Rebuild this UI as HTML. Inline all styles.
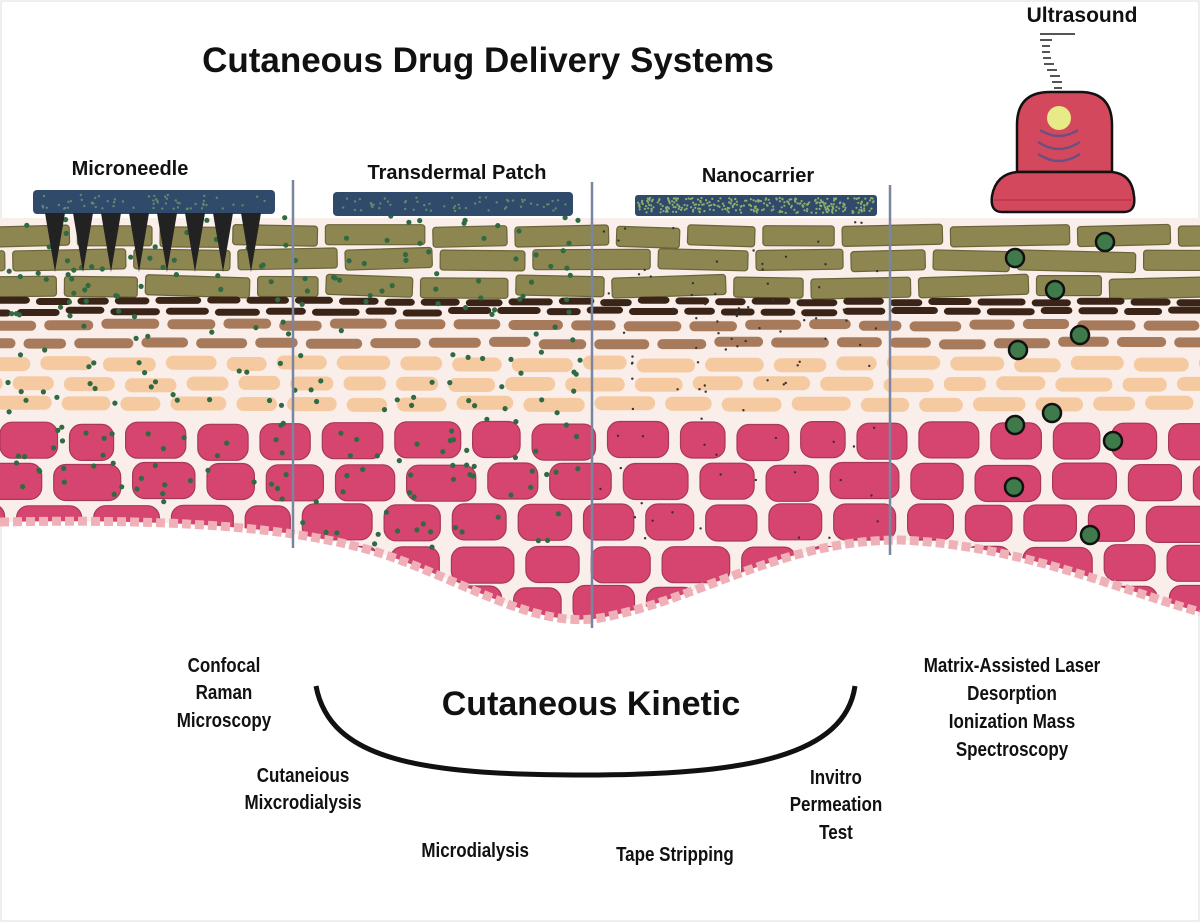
<!DOCTYPE html>
<html><head><meta charset="utf-8">
<style>
html,body{margin:0;padding:0;background:#fff;}
body{width:1200px;height:922px;overflow:hidden;position:relative;font-family:"Liberation Sans",Arial,sans-serif;}
svg{position:absolute;left:0;top:0;}
</style></head>
<body>
<svg id="s" width="1200" height="922" viewBox="0 0 1200 922" xmlns="http://www.w3.org/2000/svg">
<defs>
<clipPath id="skin"><path d="M0,218 L1200,218 L1200,612 C1120,590 1020,545 900,540 C780,540 700,600 600,618 C540,628 480,590 400,560 C320,530 200,518 0,522 Z"/></clipPath>
</defs>
<rect x="1" y="1" width="1198" height="920" fill="#fff" stroke="#ddd"/>
<path d="M0,218 L1200,218 L1200,612 C1120,590 1020,545 900,540 C780,540 700,600 600,618 C540,628 480,590 400,560 C320,530 200,518 0,522 Z" fill="#f9eeea"/>
<g id="cells" clip-path="url(#skin)"></g>
<path id="dotline" d="M0,522 C200,518 320,530 400,560 C480,590 540,628 600,618 C700,600 780,540 900,540 C1020,545 1120,590 1200,612" fill="none" stroke="#f0b0b8" stroke-width="9" stroke-dasharray="9 4"/>
<g id="dots"></g>
<g stroke="#7a86a0" stroke-width="2.5">
<line x1="293" y1="180" x2="293" y2="548"/>
<line x1="592" y1="182" x2="592" y2="628"/>
<line x1="890" y1="185" x2="890" y2="555"/>
</g>
<rect x="33" y="190" width="242" height="24" rx="4" fill="#2f4a6a"/>
<g id="needles" fill="#222"></g>
<rect x="333" y="192" width="240" height="24" rx="4" fill="#2f4a6a"/>
<rect x="635" y="195" width="242" height="21" rx="3" fill="#2f4a6a"/>
<g id="speck"></g>
<g stroke="#555" stroke-width="2">
<path d="M1040,34 L1075,34 M1040,40 L1052,40 M1042,46 L1050,46 M1042,52 L1050,52 M1043,58 L1051,58 M1044,64 L1054,64 M1047,70 L1057,70 M1050,76 L1060,76 M1052,82 L1062,82 M1054,88 L1062,88"/>
</g>
<path d="M1017,172 L1017,125 Q1017,92 1050,92 L1080,92 Q1112,92 1112,125 L1112,172 Z" fill="#d4485e" stroke="#111" stroke-width="2.5"/>
<path d="M1002,212 Q990,212 992,196 Q996,174 1017,172 L1112,172 Q1132,174 1134,196 Q1136,212 1124,212 Z" fill="#d4485e" stroke="#111" stroke-width="2.5"/>
<line x1="994" y1="200" x2="1132" y2="200" stroke="#c03a50" stroke-width="2"/>
<circle cx="1059" cy="118" r="12" fill="#e6eb88"/>
<g fill="none" stroke="#6a5080" stroke-width="2.5">
<path d="M1040,130 Q1059,142 1078,130"/><path d="M1038,142 Q1059,156 1080,142"/><path d="M1038,154 Q1059,168 1080,154"/>
</g>
<g font-family="Liberation Sans, Arial, sans-serif" font-weight="bold" fill="#111">
<text x="488" y="72" font-size="35" text-anchor="middle">Cutaneous Drug Delivery Systems</text>
<text x="1082" y="22" font-size="21" text-anchor="middle">Ultrasound</text>
<text x="130" y="175" font-size="20" text-anchor="middle">Microneedle</text>
<text x="457" y="179" font-size="20" text-anchor="middle">Transdermal Patch</text>
<text x="758" y="182" font-size="20" text-anchor="middle">Nanocarrier</text>
<text x="591" y="715" font-size="34" text-anchor="middle">Cutaneous Kinetic</text>
</g>
<path d="M316,686 C330,760 420,775 585,775 C750,775 845,755 855,686" fill="none" stroke="#111" stroke-width="5"/>
<g transform="scale(0.85 1)" font-family="Liberation Sans, Arial, sans-serif" font-weight="bold" fill="#111" text-anchor="middle" font-size="20">
<text x="263.5" y="672">Confocal</text>
<text x="263.5" y="699">Raman</text>
<text x="263.5" y="727">Microscopy</text>
<text x="356.5" y="782">Cutaneious</text>
<text x="356.5" y="809">Mixcrodialysis</text>
<text x="559" y="857">Microdialysis</text>
<text x="794" y="861">Tape Stripping</text>
<text x="983.5" y="784">Invitro</text>
<text x="983.5" y="811">Permeation</text>
<text x="983.5" y="839">Test</text>
<text x="1190.6" y="672">Matrix-Assisted Laser</text>
<text x="1190.6" y="700">Desorption</text>
<text x="1190.6" y="728">Ionization Mass</text>
<text x="1190.6" y="756">Spectroscopy</text>
</g>
</svg>
<script>
var NS="http://www.w3.org/2000/svg";
var seed=7;function rnd(){seed=(seed*9301+49297)%233280;return seed/233280;}
function el(p,t,a){var e=document.createElementNS(NS,t);for(var k in a)e.setAttribute(k,a[k]);p.appendChild(e);return e;}
var C=document.getElementById('cells');
function row(y,h,wmin,wmax,gap,fill,rx,stroke,off){
 var x=-off;
 while(x<1200){var w=wmin+rnd()*(wmax-wmin);
  var a={x:x.toFixed(1),y:(y+rnd()*3-1.5).toFixed(1),width:w.toFixed(1),height:h,rx:rx,fill:fill};
  if(stroke){a.stroke=stroke;a['stroke-width']=1.2;}
  var r=el(C,'rect',a);
  if(h>14 && fill=='#8e8650'){r.setAttribute('transform','rotate('+(rnd()*4-2).toFixed(1)+' '+(x+w/2)+' '+(y+h/2)+')');}
  x+=w+gap;}
}
row(226,20,60,120,8,'#8e8650',3,'#6a6438',20);
row(250,20,60,120,8,'#8e8650',3,'#6a6438',60);
row(277,20,60,120,8,'#8e8650',3,'#6a6438',5);
row(298,7,30,50,6,'#3a2418',4,null,10);
row(308,7,30,50,6,'#3a2418',4,null,30);
row(320,10,40,60,8,'#a87a5c',5,null,5);
row(338,10,40,60,8,'#a87a5c',5,null,30);
row(357,14,40,62,10,'#f6caa0',7,null,15);
row(377,14,40,62,10,'#f6caa0',7,null,40);
row(397,14,40,62,10,'#f6caa0',7,null,5);
var my=[423,464,505,546,587];
for(var i=0;i<my.length;i++) row(my[i],36,44,70,12,'#d5456f',12,'#a83858',i*27%60);
var D=document.getElementById('dots');
for(var i=0;i<260;i++){var x=rnd()*580+5;var y=215+rnd()*(x<293?290:340);
 el(D,'circle',{cx:x.toFixed(1),cy:y.toFixed(1),r:2.6,fill:'#2f6a42'});}
for(var i=0;i<90;i++){var x=600+rnd()*280;var y=222+rnd()*320;
 el(D,'circle',{cx:x.toFixed(1),cy:y.toFixed(1),r:1.2,fill:'#333'});}
var big=[[1105,242],[1015,258],[1055,290],[1080,335],[1018,350],[1052,413],[1015,425],[1113,441],[1014,487],[1090,535]];
big.forEach(function(p){el(D,'circle',{cx:p[0],cy:p[1],r:9,fill:'#3f7a4a',stroke:'#111','stroke-width':2.5});});
var N=document.getElementById('needles');
for(var i=0;i<8;i++){var cx=55+i*28;el(N,'polygon',{points:(cx-10)+',213 '+(cx+10)+',213 '+cx+',272'});}
var S=document.getElementById('speck');
for(var i=0;i<300;i++){el(S,'circle',{cx:(638+rnd()*236).toFixed(1),cy:(198+rnd()*15).toFixed(1),r:1.1,fill:'#8fae6a'});}
for(var i=0;i<60;i++){el(S,'circle',{cx:(40+rnd()*228).toFixed(1),cy:(195+rnd()*14).toFixed(1),r:1.2,fill:'#5f8a6a'});
 el(S,'circle',{cx:(340+rnd()*226).toFixed(1),cy:(197+rnd()*14).toFixed(1),r:1.2,fill:'#5f8a6a'});}
</script>
</body></html>
